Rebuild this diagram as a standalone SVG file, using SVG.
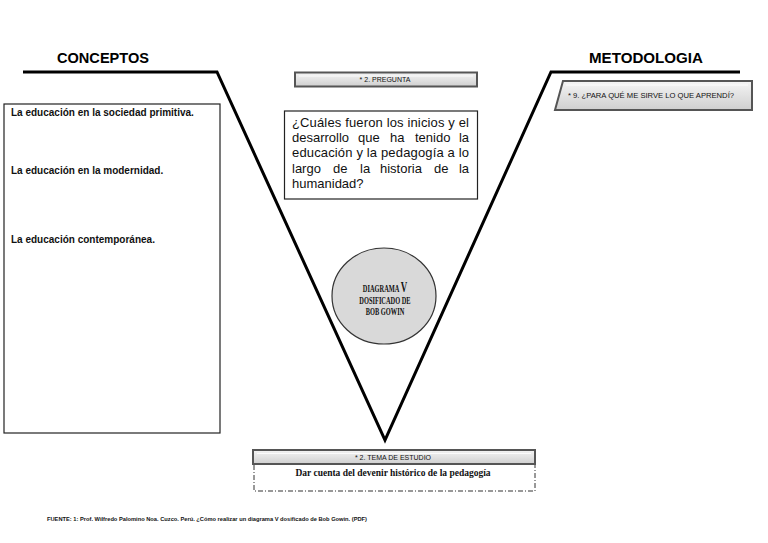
<svg xmlns="http://www.w3.org/2000/svg" width="768" height="543" viewBox="0 0 768 543">
<defs>
<linearGradient id="bar" x1="0" y1="0" x2="0" y2="1">
<stop offset="0" stop-color="#f4f4f4"/>
<stop offset="0.5" stop-color="#e2e2e2"/>
<stop offset="1" stop-color="#cfcfcf"/>
</linearGradient>
</defs>
<style>
.title{font-family:"Liberation Sans",Arial,sans-serif;font-weight:bold;font-size:15px;fill:#000}
.thick{stroke:#000;stroke-width:3;fill:none;stroke-linejoin:miter}
.box{fill:#fff;stroke:#222;stroke-width:1.2}
.barr{fill:url(#bar);stroke:#555;stroke-width:2}
.bartxt{font-family:"Liberation Sans",Arial,sans-serif;font-size:7px;fill:#111;text-anchor:middle}
.concept{font-family:"Liberation Sans",Arial,sans-serif;font-weight:bold;font-size:10px;fill:#111}
.q{font-family:"Liberation Sans",Arial,sans-serif;font-size:13px;fill:#111}
.qe{font-family:"Liberation Sans",Arial,sans-serif;font-size:13px;fill:#111;text-anchor:end}
.circ{font-family:"Liberation Serif","Times New Roman",serif;font-weight:bold;font-size:10px;fill:#111;text-anchor:middle}
.foot{font-family:"Liberation Sans",Arial,sans-serif;font-weight:bold;font-size:6px;fill:#111}
</style>
<rect width="768" height="543" fill="#fff"/>

<g id="connectors">
<polyline class="thick" points="23,72 217,72 385,440 551,72 740,72"/>
</g>

<g id="conceptos-title">
<text class="title" x="57" y="63" textLength="92" lengthAdjust="spacingAndGlyphs">CONCEPTOS</text>
</g>
<g id="metodologia-title">
<text class="title" x="589" y="63" textLength="114" lengthAdjust="spacingAndGlyphs">METODOLOGIA</text>
</g>

<g id="conceptos-box">
<rect class="box" x="4" y="104" width="216" height="329"/>
<text class="concept" x="11" y="116">La educación en la sociedad primitiva.</text>
<text class="concept" x="11" y="174">La educación en la modernidad.</text>
<text class="concept" x="11" y="243">La educación contemporánea.</text>
</g>

<g id="pregunta-bar">
<rect class="barr" x="295" y="72.5" width="182" height="14"/>
<line x1="299" y1="76" x2="473" y2="76" stroke="#fff" stroke-width="1" opacity="0.8"/>
<text class="bartxt" x="385" y="82">* 2. PREGUNTA</text>
</g>

<g id="pregunta-box">
<rect class="box" x="284.5" y="111" width="193" height="88"/>
<text class="q" x="292" y="127" textLength="177" lengthAdjust="spacing">¿Cuáles fueron los inicios y el</text>
<text class="q" y="142"><tspan x="292">desarrollo</tspan><tspan x="358">que</tspan><tspan x="390">ha</tspan><tspan x="415">tenido</tspan></text>
<text class="qe" x="469" y="142">la</text>
<text class="q" x="292" y="157" textLength="177" lengthAdjust="spacing">educación y la pedagogía a lo</text>
<text class="q" y="173"><tspan x="292">largo</tspan><tspan x="333">de</tspan><tspan x="360">la</tspan><tspan x="380">historia</tspan><tspan x="434">de</tspan></text>
<text class="qe" x="469" y="173">la</text>
<text class="q" x="292" y="188">humanidad?</text>
</g>

<g id="metodologia-bar">
<polygon class="barr" points="563,81 752,81 752,110 555,110"/>
<polyline points="566,85 748,85" stroke="#fff" stroke-width="1" fill="none" opacity="0.8"/>
<text class="bartxt" x="651" y="98" textLength="166" lengthAdjust="spacingAndGlyphs">* 9. ¿PARA QUÉ ME SIRVE LO QUE APRENDÍ?</text>
</g>

<g id="circulo">
<ellipse cx="384" cy="296" rx="52" ry="48" fill="#d9d9d9" stroke="#333" stroke-width="1.2"/>
<g transform="translate(385,0) scale(0.64,1)">
<text class="circ" x="0" y="292">DIAGRAMA <tspan font-size="14">V</tspan></text>
<text class="circ" x="0" y="304">DOSIFICADO DE</text>
<text class="circ" x="0" y="315">BOB GOWIN</text>
</g>
</g>

<g id="tema">
<rect class="barr" x="253" y="450" width="282" height="14"/>
<line x1="257" y1="453.5" x2="531" y2="453.5" stroke="#fff" stroke-width="1" opacity="0.8"/>
<text class="bartxt" x="393" y="460">* 2. TEMA DE ESTUDIO</text>
<path d="M254,465 V491 H535 V465" fill="none" stroke="#333" stroke-width="1" stroke-dasharray="5,2,1,2"/>
<text x="393" y="476" font-family="'Liberation Serif','Times New Roman',serif" font-weight="bold" font-size="9.5" text-anchor="middle" fill="#111">Dar cuenta del devenir histórico de la pedagogía</text>
</g>

<g id="fuente">
<text class="foot" x="47" y="521" textLength="320" lengthAdjust="spacingAndGlyphs">FUENTE: 1: Prof. Wilfredo Palomino Noa. Cuzco. Perú. ¿Cómo realizar un diagrama V dosificado de Bob Gowin. (PDF)</text>
</g>
</svg>
